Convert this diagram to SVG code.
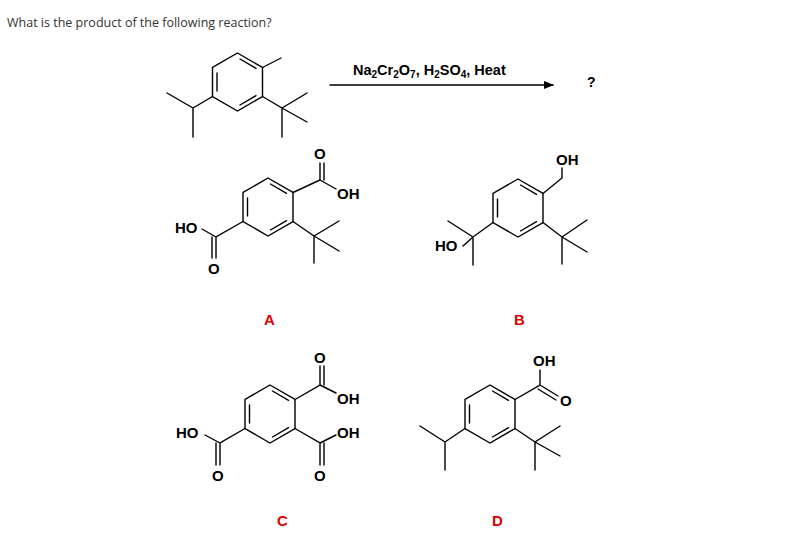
<svg xmlns="http://www.w3.org/2000/svg" width="791" height="548" viewBox="0 0 791 548">
<style>
.b{stroke:#000;stroke-width:1.4;fill:none;stroke-linecap:round}
.t{font-family:"Liberation Sans",Arial,sans-serif;font-size:15px;font-weight:bold;fill:#000}
.lab{font-family:"Liberation Sans",Arial,sans-serif;font-size:15px;font-weight:bold;fill:#e00000}
</style>
<defs>
<g id="ring" class="b">
<polygon points="0,-29 25,-14.5 25,14.5 0,29 -25,14.5 -25,-14.5"/>
<line x1="-20.5" y1="-9" x2="-20.5" y2="9"/>
<line x1="2.5" y1="-23" x2="18.5" y2="-13.7"/>
<line x1="2.5" y1="23" x2="18.5" y2="13.7"/>
</g>
<marker id="ah" markerWidth="10" markerHeight="8" refX="9" refY="4" orient="auto" markerUnits="userSpaceOnUse"><path d="M0,0 L10,4 L0,8 Z" fill="#000"/></marker>
</defs>
<rect width="791" height="548" fill="#fff"/>
<text x="7" y="27" style="font-family:'Open Sans','Liberation Sans',sans-serif;font-size:12.5px;fill:#333">What is the product of the following reaction?</text>
<g id="sm">
<use href="#ring" x="237.5" y="82"/>
<path class="b" d="M262.5,67.5 L281,58 M212.5,96.5 L193,108 L167,93 M193,108 L193,137 M262.5,96.5 L282,108 L307,93 M282,108 L307,122 M282,108 L282,137"/>
</g>
<g id="connectors">
<line class="b" x1="330" y1="85" x2="553" y2="85" marker-end="url(#ah)"/>
</g>
<g id="reagents"><text class="t" x="353" y="75" style="font-size:14.5px">Na<tspan font-size="10" dy="3">2</tspan><tspan dy="-3">Cr</tspan><tspan font-size="10" dy="3">2</tspan><tspan dy="-3">O</tspan><tspan font-size="10" dy="3">7</tspan><tspan dy="-3">, H</tspan><tspan font-size="10" dy="3">2</tspan><tspan dy="-3">SO</tspan><tspan font-size="10" dy="3">4</tspan><tspan dy="-3">, Heat</tspan></text>
<text class="t" x="587" y="87" style="font-size:14px">?</text></g>
<g id="A">
<use href="#ring" x="268" y="207"/>
<path class="b" d="M293,192.5 L320,180 L320,163 M324,180 L324,163 M320,180 L336,189 M293,221.5 L314,236 L339,221 M314,236 L339,251 M314,236 L314,263 M243,221.5 L216,237 L216,258 M212,237 L212,258 M216,237 L202,229"/>
<text class="t" x="314" y="159">O</text>
<text class="t" x="337" y="199">OH</text>
<text class="t" x="175" y="233">HO</text>
<text class="t" x="208" y="274">O</text>
<text class="lab" x="264" y="325">A</text>
</g>
<g id="B">
<use href="#ring" x="518" y="208"/>
<path class="b" d="M543,193.5 L562,178 L562,168 M543,222.5 L562,237 L587,220 M562,237 L587,252 M562,237 L562,264 M493,222.5 L473,237 L448,221 M473,237 L473,265 M473,237 L463,246"/>
<text class="t" x="556" y="165">OH</text>
<text class="t" x="435" y="251">HO</text>
<text class="lab" x="514" y="325">B</text>
</g>
<g id="C">
<use href="#ring" x="270" y="414"/>
<path class="b" d="M295,399.5 L320,385 L320,366 M324,385 L324,366 M320,385 L336,393 M295,428.5 L320,443 L320,465 M324,443 L324,465 M320,443 L336,435 M245,428.5 L220,443 L220,465 M216,443 L216,465 M220,443 L205,435"/>
<text class="t" x="314" y="363">O</text>
<text class="t" x="337" y="404">OH</text>
<text class="t" x="337" y="438">OH</text>
<text class="t" x="176" y="438">HO</text>
<text class="t" x="212" y="481">O</text>
<text class="t" x="314" y="481">O</text>
<text class="lab" x="277" y="526">C</text>
</g>
<g id="D">
<use href="#ring" x="490" y="414"/>
<path class="b" d="M515,399.5 L540,385 L540,370 M540,385 L558,396 M538,389 L556,400 M465,428.5 L445,442 L420,426 M445,442 L445,470 M515,428.5 L535,442 L560,426 M535,442 L560,456 M535,442 L535,470"/>
<text class="t" x="533" y="366">OH</text>
<text class="t" x="560" y="406">O</text>
<text class="lab" x="492" y="526">D</text>
</g>
</svg>
